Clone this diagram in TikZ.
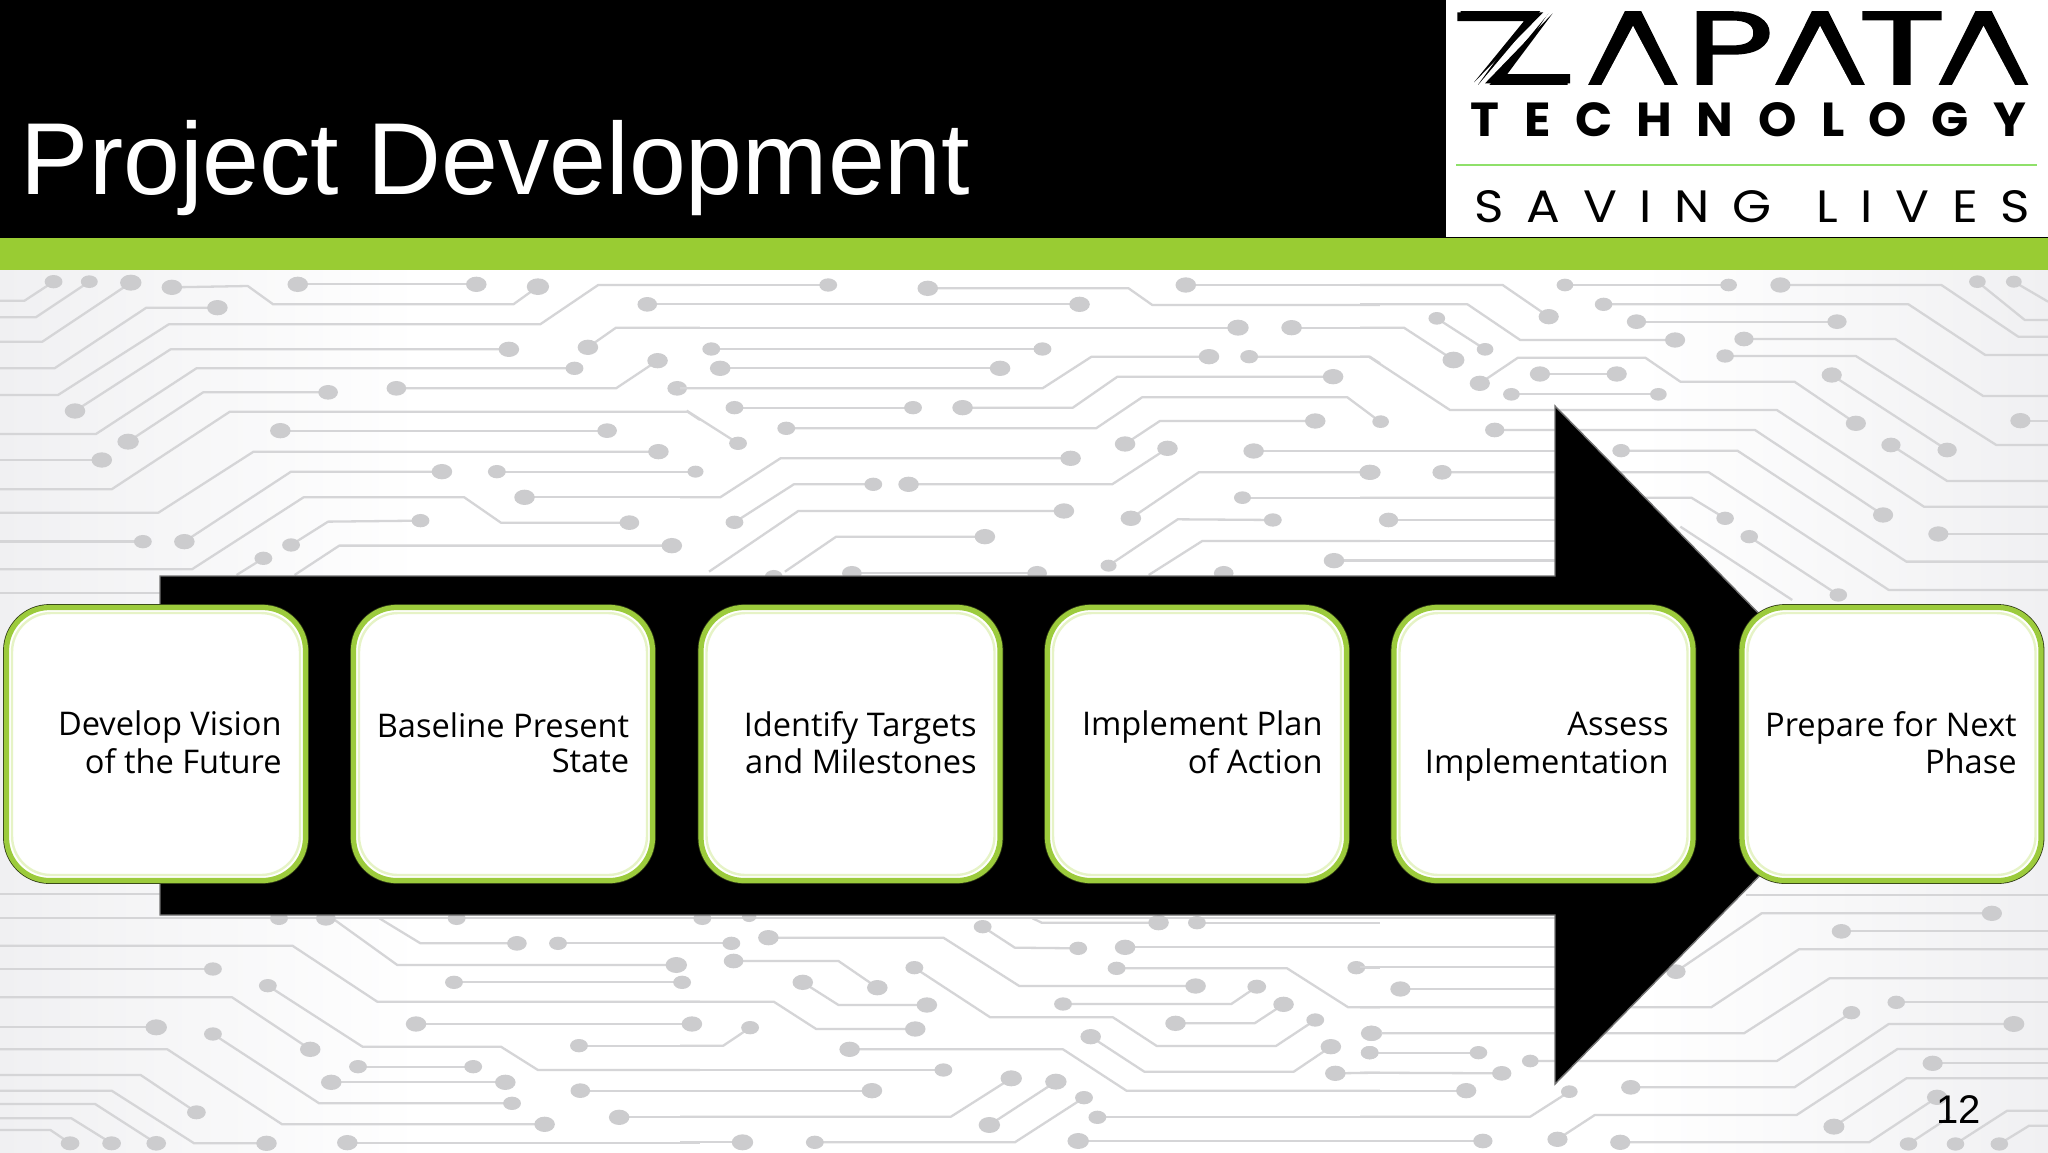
\documentclass[tikz,border=0pt]{standalone}
\usepackage{fontspec}
\usepackage{graphicx}
\setmainfont{Liberation Sans}
\newfontfamily\boxfont{Open Sans}
\newfontfamily\zapfont[FakeBold=1.5]{Poppins}
\newfontfamily\techfont[LetterSpace=50]{Poppins Bold}
\newfontfamily\savefont[LetterSpace=45]{Poppins}
\definecolor{hgreen}{HTML}{99CC33}
\definecolor{bgreen}{HTML}{9CCB3C}
\definecolor{glow}{HTML}{E6F3C6}
\definecolor{edge}{HTML}{2E3A14}
\definecolor{trc}{HTML}{D5D5D7}
\definecolor{dotc}{HTML}{CCCCCE}
\definecolor{bgside}{HTML}{F0F0F2}
\definecolor{lline}{HTML}{8FE06A}
\newcommand\dd[1]{\foreach \x/\y/\r in {#1}{\fill[dotc] (\x,\y) circle[radius=\r];}}
\newcommand\zl[4]{\node[logoletter] (#1) at (#3,48) {\resizebox{#4pt}{36pt}{\zapfont #2}};}
\newcommand\twol[2]{#1\strut\\#2\strut}
\tikzset{
 tr/.style={draw=trc,line width=1.15pt,line join=round},
 zoomA/.style={xscale=0.4464,yscale=0.3333},
 zoomB/.style={xscale=0.4388,yscale=0.3333},
 stepbox/.style={shape=rectangle,rounded corners=21.5pt,minimum width=149.5pt,minimum height=136.5pt,inner sep=0pt,outer sep=0pt,fill=white,draw=bgreen,line width=2.6pt,preaction={draw=edge,line width=3.4pt}},
 stepglow/.style={shape=rectangle,rounded corners=19.5pt,minimum width=144pt,minimum height=131pt,inner sep=0pt,outer sep=0pt,draw=glow,line width=1.2pt},
 lab/.style={font=\boxfont\fontsize{16.3}{17.5}\selectfont,align=right,anchor=east,inner sep=0pt,text=black},
 logoletter/.style={inner sep=0pt,outer sep=0pt,anchor=center,text=black}
}
\begin{document}
\begin{tikzpicture}[x=0.5pt,y=-0.5pt]
\useasboundingbox (0,0) rectangle (2048,1152);
% background
\fill[white] (0,270) rectangle (2048,1152);
\shade[left color=bgside,right color=white] (0,270) rectangle (420,1152);
\shade[left color=white,right color=bgside] (1640,270) rectangle (2048,1152);
% traces region: top left
\begin{scope}[shift={(0,260)},zoomA]
\draw[tr] (0,122)--(55,122)--(120,65);
\draw[tr] (0,172)--(80,172)--(200,65);
\draw[tr] (0,245)--(95,245)--(293,68);
\draw[tr] (0,325)--(122,325)--(328,143)--(487,143);
\draw[tr] (0,405)--(130,405)--(378,193)--(1210,193)--(1340,75)--(1568,75);
\draw[tr] (168,453)--(382,268)--(1140,268);
\draw[tr] (0,522)--(215,522)--(440,325)--(1287,325);
\draw[tr] (287,545)--(455,397)--(735,397);
\draw[tr] (0,600)--(228,600);
\draw[tr] (0,688)--(250,688)--(515,455)--(1540,455)--(1568,480);
\draw[tr] (628,512)--(1360,512);
\draw[tr] (0,758)--(355,758)--(568,575)--(1475,575);
\draw[tr] (413,845)--(652,635)--(990,635);
\draw[tr] (1113,635)--(1558,635);
\draw[tr] (1175,712)--(1568,712);
\draw[tr] (0,845)--(320,845);
\draw[tr] (0,928)--(430,928)--(680,712)--(1040,712)--(1122,788)--(1410,788);
\draw[tr] (652,855)--(735,785)--(942,782);
\draw[tr] (530,945)--(590,895);
\draw[tr] (660,945)--(760,857)--(1505,857);
\draw[tr] (385,82)--(555,78)--(612,133)--(1150,133)--(1205,80);
\draw[tr] (667,73)--(1067,73);
\draw[tr] (1450,133)--(1568,133);
\draw[tr] (1317,262)--(1380,203)--(1568,203);
\draw[tr] (1473,302)--(1380,385)--(888,385);
\draw[tr] (1517,385)--(1568,385);
\draw[tr] (0,1000)--(358,1000);
\dd{120/65/20,200/65/19,293/68/24,487/143/23,168/453/23,1140/268/23,1287/325/20,287/545/24,735/397/22,228/600/23,628/512/23,1360/512/22,1475/575/23,413/845/23,990/635/23,1113/635/20,1558/635/18,1175/712/23,320/845/20,1410/788/22,652/855/20,942/782/20,590/895/20,1505/857/23,385/82/23,1205/80/25,667/73/23,1067/73/23,1450/133/22,1317/262/23,1473/302/23,888/385/22,1517/385/22}
\end{scope}
% top middle
\begin{scope}[shift={(680,260)},zoomA]
\draw[tr] (0,75)--(332,75);
\draw[tr] (555,85)--(1005,85)--(1058,135)--(1568,135);
\draw[tr] (0,133)--(895,133);
\draw[tr] (0,203)--(1250,203);
\draw[tr] (1370,203)--(1568,203);
\draw[tr] (1133,75)--(1568,75);
\draw[tr] (70,267)--(812,267);
\draw[tr] (90,325)--(717,325);
\draw[tr] (0,385)--(812,385)--(922,290)--(1185,290);
\draw[tr] (1275,290)--(1545,290)--(1568,310);
\draw[tr] (122,443)--(522,443);
\draw[tr] (633,443)--(880,443)--(980,350)--(1463,350);
\draw[tr] (238,505)--(932,505)--(1035,412)--(1495,412)--(1568,485);
\draw[tr] (15,452)--(130,550);
\draw[tr] (997,552)--(1075,483)--(1423,483);
\draw[tr] (1092,565)--(968,673)--(512,673);
\draw[tr] (433,673)--(255,673)--(122,787);
\draw[tr] (1285,573)--(1568,573);
\draw[tr] (0,712)--(90,712)--(225,595)--(875,595);
\draw[tr] (1010,775)--(1162,637)--(1545,637);
\draw[tr] (1260,713)--(1568,713);
\draw[tr] (65,935)--(265,753)--(860,753);
\draw[tr] (235,935)--(350,830)--(683,830);
\draw[tr] (1328,780)--(1115,778)--(960,917);
\draw[tr] (1050,945)--(1170,843)--(1568,843);
\draw[tr] (1465,902)--(1568,902);
\draw[tr] (385,940)--(800,940);
\dd{332/75/20,555/85/23,895/133/23,1250/203/24,1370/203/23,1133/75/23,70/267/20,812/267/20,90/325/23,717/325/23,1185/290/23,1275/290/20,122/443/20,522/443/20,633/443/23,1463/350/23,238/505/20,130/550/20,997/552/23,1423/483/23,1092/565/23,512/673/23,433/673/20,122/787/20,1285/573/23,875/595/23,1010/775/23,1545/637/23,1260/713/19,860/753/23,683/830/23,1328/780/20,960/917/18,1465/902/23,385/940/22,800/940/22,1218/940/22,210/950/20}
\end{scope}
% top right
\begin{scope}[shift={(1360,260)},zoomB]
\draw[tr] (0,75)--(325,75)--(430,170);
\draw[tr] (0,133)--(245,133)--(365,240)--(718,240);
\draw[tr] (0,203)--(100,203)--(213,300);
\draw[tr] (175,175)--(285,268);
\draw[tr] (0,290)--(20,290)--(205,450)--(950,450)--(1285,740)--(1568,740);
\draw[tr] (467,75)--(840,75);
\draw[tr] (958,75)--(1325,75)--(1500,230)--(1568,230);
\draw[tr] (555,133)--(1250,133)--(1425,285)--(1568,285);
\draw[tr] (630,185)--(1087,185);
\draw[tr] (875,237)--(1220,237)--(1420,408)--(1568,408);
\draw[tr] (832,288)--(1130,288)--(1450,555)--(1568,555);
\draw[tr] (273,370)--(360,293)--(650,293)--(730,365)--(990,365)--(1130,490);
\draw[tr] (410,342)--(585,342);
\draw[tr] (345,403)--(680,403);
\draw[tr] (1075,345)--(1338,570);
\draw[tr] (1407,65)--(1515,180)--(1568,180);
\draw[tr] (1490,65)--(1568,125);
\draw[tr] (1505,482)--(1568,482);
\draw[tr] (1210,555)--(1338,663)--(1568,663);
\draw[tr] (307,510)--(900,510)--(1192,765);
\draw[tr] (0,572)--(445,572);
\draw[tr] (595,572)--(860,572)--(1245,905)--(1568,905);
\draw[tr] (187,637)--(795,637)--(1205,990)--(1568,990);
\draw[tr] (0,713)--(755,713)--(832,775);
\draw[tr] (65,780)--(500,780);
\draw[tr] (0,843)--(500,843);
\draw[tr] (730,800)--(985,1020);
\draw[tr] (0,902)--(445,902);
\draw[tr] (887,830)--(1090,1005);
\draw[tr] (1318,822)--(1568,822);
\dd{430/170/23,718/240/23,213/300/25,175/175/19,285/268/19,467/75/19,840/75/19,958/75/23,555/133/20,630/185/22,1087/185/22,875/237/22,832/288/20,273/370/23,1130/490/23,410/342/23,585/342/23,345/403/19,680/403/19,1075/345/23,1338/570/22,1407/65/19,1490/65/18,1505/482/23,1210/555/22,307/510/22,1192/765/23,47/485/19,595/572/20,25/637/22,187/637/22,832/775/20,65/780/22,887/830/20,1090/1005/20,1318/822/23}
\end{scope}
% bottom left
\begin{scope}[shift={(0,880)},zoomA]
\draw[tr] (0,42)--(358,42);
\draw[tr] (0,113)--(1568,113);
\draw[tr] (0,197)--(655,197)--(845,365)--(1568,365);
\draw[tr] (0,267)--(477,267);
\draw[tr] (0,352)--(520,352)--(695,508);
\draw[tr] (0,442)--(350,442);
\draw[tr] (600,317)--(812,500)--(1122,500)--(1205,570)--(1568,570);
\draw[tr] (477,462)--(715,670)--(1147,670);
\draw[tr] (0,508)--(375,508)--(632,733)--(1220,733);
\draw[tr] (0,585)--(315,585)--(440,697);
\draw[tr] (0,632)--(250,632)--(435,790)--(597,790);
\draw[tr] (0,672)--(213,672)--(350,790);
\draw[tr] (0,715)--(160,715)--(250,790);
\draw[tr] (0,750)--(113,750)--(157,790);
\draw[tr] (778,788)--(1568,788);
\draw[tr] (750,120)--(890,255)--(1515,255);
\draw[tr] (850,115)--(942,190)--(1158,190);
\draw[tr] (1250,190)--(1568,190);
\draw[tr] (1017,307)--(1528,307);
\draw[tr] (932,432)--(1550,432);
\draw[tr] (1297,497)--(1568,497);
\draw[tr] (802,560)--(1060,560);
\draw[tr] (742,607)--(1132,607);
\draw[tr] (1300,632)--(1568,632);
\draw[tr] (1387,712)--(1568,712);
\dd{477/267/20,695/508/23,350/442/24,600/317/20,477/462/20,1147/670/20,1220/733/23,440/697/21,597/790/23,350/790/22,250/790/21,157/790/21,778/788/23,1515/255/24,1158/190/22,1250/190/20,1017/307/20,1528/307/20,932/432/23,1550/432/23,1297/497/20,802/560/20,1060/560/20,742/607/23,1132/607/23,1300/632/22,1387/712/23,625/115/20,730/115/22,1023/115/20}
\end{scope}
% bottom middle
\begin{scope}[shift={(680,880)},zoomA]
\draw[tr] (0,113)--(1568,113);
\draw[tr] (0,190)--(115,190);
\draw[tr] (198,173)--(590,173)--(760,318)--(1155,318);
\draw[tr] (120,243)--(355,243)--(442,323);
\draw[tr] (275,307)--(355,375)--(553,375);
\draw[tr] (0,365)--(210,365)--(305,447)--(527,447);
\draw[tr] (525,263)--(695,412)--(970,412)--(1068,498)--(1335,498)--(1423,420);
\draw[tr] (0,497)--(97,497)--(157,443);
\draw[tr] (380,508)--(858,508)--(1000,632)--(1568,632);
\draw[tr] (0,570)--(590,570);
\draw[tr] (0,632)--(430,632);
\draw[tr] (0,710)--(607,710)--(742,595);
\draw[tr] (842,605)--(693,735);
\draw[tr] (0,787)--(140,787);
\draw[tr] (302,787)--(750,787)--(905,653);
\draw[tr] (935,712)--(1568,712);
\draw[tr] (892,783)--(1568,783);
\draw[tr] (920,470)--(1040,575)--(1375,575)--(1458,500);
\draw[tr] (858,372)--(1235,372)--(1292,320);
\draw[tr] (1110,430)--(1287,430)--(1352,373);
\draw[tr] (678,140)--(750,203)--(892,205);
\draw[tr] (997,202)--(1568,202);
\draw[tr] (978,265)--(1360,265)--(1497,382)--(1568,382);
\draw[tr] (1515,263)--(1568,263);
\draw[tr] (790,115)--(810,128)--(1072,128);
\draw[tr] (1158,128)--(1568,128);
\draw[tr] (1468,580)--(1568,578);
\dd{115/190/20,198/173/23,1155/318/23,120/243/22,442/323/23,275/307/23,553/375/23,527/447/23,525/263/20,1423/420/20,157/443/20,380/508/23,590/570/20,430/632/23,742/595/24,842/605/24,693/735/24,140/787/24,302/787/20,905/653/20,935/712/20,892/783/24,920/470/23,1458/500/23,858/372/20,1292/320/21,1110/430/23,1352/373/23,678/140/20,892/205/20,997/202/23,978/265/20,1515/263/20,1072/128/23,1158/128/20,1550/460/23,1545/518/20,1468/580/23,50/115/20,155/110/16}
\end{scope}
% bottom right
\begin{scope}[shift={(1360,860)},zoomB]
\draw[tr] (0,175)--(445,175);
\draw[tr] (880,105)--(1568,105);
\draw[tr] (0,262)--(445,262);
\draw[tr] (0,322)--(445,322);
\draw[tr] (92,387)--(445,387);
\draw[tr] (0,442)--(800,442)--(1000,268)--(1568,268);
\draw[tr] (25,520)--(875,520)--(1070,355)--(1568,355);
\draw[tr] (22,578)--(270,578);
\draw[tr] (388,603)--(950,603)--(1120,458);
\draw[tr] (0,638)--(323,640);
\draw[tr] (0,692)--(242,692);
\draw[tr] (0,770)--(388,770)--(477,695);
\draw[tr] (0,843)--(280,843);
\draw[tr] (450,838)--(535,765)--(995,765)--(1225,567)--(1568,567);
\draw[tr] (593,847)--(1160,847)--(1315,712);
\draw[tr] (617,682)--(990,682)--(1205,492)--(1490,492);
\draw[tr] (1222,427)--(1568,427);
\draw[tr] (1305,610)--(1568,610);
\draw[tr] (1080,800)--(1245,655)--(1568,655);
\draw[tr] (1357,852)--(1475,752)--(1568,752);
\draw[tr] (1457,852)--(1525,797)--(1568,797);
\draw[tr] (1250,852)--(1345,770);
\draw[tr] (1097,214)--(1568,214);
\draw[tr] (720,335)--(915,160)--(1440,160);
\dd{92/387/23,25/520/23,22/578/20,270/578/20,388/603/19,1120/458/20,323/640/22,242/692/23,477/695/19,280/843/22,450/838/23,593/847/23,1315/712/23,617/682/22,1490/492/24,1222/427/20,1305/610/23,1080/800/24,1250/852/20,1357/852/20,1457/852/20,1097/214/22,720/335/22,1440/160/23}
\end{scope}
% arrow
\fill[black,draw=black!55,line width=0.7pt,line join=miter] (160,576)--(1555,576)--(1555,406)--(1888,745)--(1555,1084)--(1555,915)--(160,915)--cycle;
% step boxes
\foreach \n/\cx in {1/156,2/503,3/850.5,4/1197,5/1543.5,6/1891.5}{
 \node[stepbox] (b\n) at (\cx,744) {};
 \node[stepglow] (g\n) at (\cx,744) {};
}
\node[lab] (t1) at (282,747.5) {\twol{Develop Vision}{of the Future}};
\node[lab] (t2) at (629.5,747.5) {\twol{Baseline Present}{State}};
\node[lab] (t3) at (977,747.5) {\twol{Identify Targets}{and Milestones}};
\node[lab] (t4) at (1323,747.5) {\twol{Implement Plan}{of Action}};
\node[lab] (t5) at (1669,747.5) {\twol{Assess}{Implementation}};
\node[lab] (t6) at (2017,747.5) {\twol{Prepare for Next}{Phase}};
% header
\fill[black] (0,0) rectangle (2048,238);
\fill[white] (1446,0) rectangle (2048,237);
\fill[hgreen] (0,238) rectangle (2048,270);
\node[anchor=base west,inner sep=0pt,text=white,font=\fontsize{51.15}{51}\selectfont] (title) at (20.5,194.5) {Project Development};
\node[anchor=base east,inner sep=0pt,text=black,font=\fontsize{20}{20}\selectfont] (pg) at (1981,1123) {12};
% logo wordmark
\zl{zz}{Z}{1513.7}{63}
\zl{za}{A}{1633}{48}
\zl{zp}{P}{1730}{44}
\zl{zb}{A}{1820}{48}
\zl{zt}{T}{1902}{44}
\zl{zc}{A}{1983.5}{48}
\foreach \c in {1633,1820,1983.5}{
 \fill[white] (\c-32,86)--(\c,26)--(\c+32,86)--cycle;
}
% slit of the Z
\fill[white] (1552,8)--(1580,8)--(1580,74)--(1507,74)--cycle;
\fill[white] (1450,21)--(1524,21)--(1474,90)--(1450,90)--cycle;
\fill[white] (1543,8)--(1553,8)--(1485,90)--(1474,90)--cycle;
\fill[black] (1457.3,12.3)--(1543.3,12.3)--(1474,82.3)--(1524,21)--(1457.3,21)--cycle;
\fill[black] (1552.7,13.3)--(1485,83.3)--(1570,83.3)--(1570,74)--(1507.3,74)--cycle;
\node[logoletter] (tech) at (1748.5,120) {\resizebox{277.5pt}{17pt}{\techfont TECHNOLOGY}};
\draw[lline,line width=1pt] (1456,165)--(2037,165);
\node[logoletter] (save) at (1752.5,207) {\resizebox{277.5pt}{16pt}{\savefont SAVING\hspace{0.9em}LIVES}};
\end{tikzpicture}
\end{document}
